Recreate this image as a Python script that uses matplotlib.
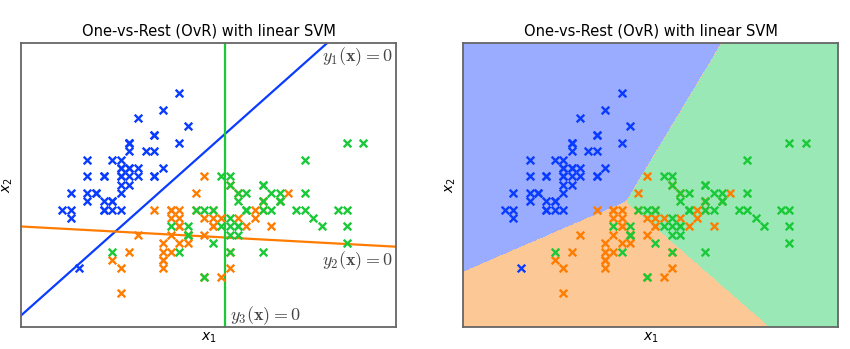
import numpy as np
import matplotlib
matplotlib.use('Agg')
import matplotlib.pyplot as plt
from matplotlib.colors import to_rgb

# iris: sepal length (x1) / sepal width (x2)
setosa_x1 = [5.1, 4.9, 4.7, 4.6, 5.0, 5.4, 4.6, 5.0, 4.4, 4.9, 5.4, 4.8, 4.8, 4.3, 5.8, 5.7, 5.4, 5.1, 5.7, 5.1,
             5.4, 5.1, 4.6, 5.1, 4.8, 5.0, 5.0, 5.2, 5.2, 4.7, 4.8, 5.4, 5.2, 5.5, 4.9, 5.0, 5.5, 4.9, 4.4, 5.1,
             5.0, 4.5, 4.4, 5.0, 5.1, 4.8, 5.1, 4.6, 5.3, 5.0]
setosa_x2 = [3.5, 3.0, 3.2, 3.1, 3.6, 3.9, 3.4, 3.4, 2.9, 3.1, 3.7, 3.4, 3.0, 3.0, 4.0, 4.4, 3.9, 3.5, 3.8, 3.8,
             3.4, 3.7, 3.6, 3.3, 3.4, 3.0, 3.4, 3.5, 3.4, 3.2, 3.1, 3.4, 4.1, 4.2, 3.1, 3.2, 3.5, 3.6, 3.0, 3.4,
             3.5, 2.3, 3.2, 3.5, 3.8, 3.0, 3.8, 3.2, 3.7, 3.3]
versicolor_x1 = [7.0, 6.4, 6.9, 5.5, 6.5, 5.7, 6.3, 4.9, 6.6, 5.2, 5.0, 5.9, 6.0, 6.1, 5.6, 6.7, 5.6, 5.8, 6.2, 5.6,
                 5.9, 6.1, 6.3, 6.1, 6.4, 6.6, 6.8, 6.7, 6.0, 5.7, 5.5, 5.5, 5.8, 6.0, 5.4, 6.0, 6.7, 6.3, 5.6, 5.5,
                 5.5, 6.1, 5.8, 5.0, 5.6, 5.7, 5.7, 6.2, 5.1, 5.7]
versicolor_x2 = [3.2, 3.2, 3.1, 2.3, 2.8, 2.8, 3.3, 2.4, 2.9, 2.7, 2.0, 3.0, 2.2, 2.9, 2.9, 3.1, 3.0, 2.7, 2.2, 2.5,
                 3.2, 2.8, 2.5, 2.8, 2.9, 3.0, 2.8, 3.0, 2.9, 2.6, 2.4, 2.4, 2.7, 2.7, 3.0, 3.4, 3.1, 2.3, 3.0, 2.5,
                 2.6, 3.0, 2.6, 2.3, 2.7, 3.0, 2.9, 2.9, 2.5, 2.8]
virginica_x1 = [6.3, 5.8, 7.1, 6.3, 6.5, 7.6, 4.9, 7.3, 6.7, 7.2, 6.5, 6.4, 6.8, 5.7, 5.8, 6.4, 6.5, 7.7, 7.7, 6.0,
                6.9, 5.6, 7.7, 6.3, 6.7, 7.2, 6.2, 6.1, 6.4, 7.2, 7.4, 7.9, 6.4, 6.3, 6.1, 7.7, 6.3, 6.4, 6.0, 6.9,
                6.7, 6.9, 5.8, 6.8, 6.7, 6.7, 6.3, 6.5, 6.2, 5.9]
virginica_x2 = [3.3, 2.7, 3.0, 2.9, 3.0, 3.0, 2.5, 2.9, 2.5, 3.6, 3.2, 2.7, 3.0, 2.5, 2.8, 3.2, 3.0, 3.8, 2.6, 2.2,
                3.2, 2.8, 2.8, 2.7, 3.3, 3.2, 2.8, 3.0, 2.8, 3.0, 2.8, 3.8, 2.8, 2.8, 2.6, 3.0, 3.4, 3.1, 3.0, 3.1,
                3.1, 3.1, 2.7, 3.2, 3.3, 3.0, 2.5, 3.0, 3.4, 3.0]

# one-vs-rest decision functions y_k(x) = w_k . x + b_k
W = np.array([[-0.891, 1.0],
              [-0.0509, -0.943],
              [0.773, 0.0]])
b = np.array([1.657, 2.834, -4.831])

labels = [r'$y_1(\mathbf{x}) = 0$', r'$y_2(\mathbf{x}) = 0$', r'$y_3(\mathbf{x}) = 0$']
colors = ['#0a3cff', '#ff7c00', '#1ac938']
fills = ['#9aacff', '#fcc896', '#99e8b5']
xlim = (3.806, 8.29)
ylim = (1.60, 5.00)

classes = [(setosa_x1, setosa_x2), (versicolor_x1, versicolor_x2), (virginica_x1, virginica_x2)]


def scatterClasses(ax):
    for (x1, x2), c in zip(classes, colors):
        ax.scatter(x1, x2, marker='x', s=30, c=c, linewidths=1.7, zorder=3)


def setupAxes(ax):
    ax.set_xlim(xlim)
    ax.set_ylim(ylim)
    ax.set_xticks([])
    ax.set_yticks([])
    ax.set_xlabel('$x_1$', fontsize=10, labelpad=3)
    ax.set_ylabel('$x_2$', fontsize=10, labelpad=4)
    ax.set_title('One-vs-Rest (OvR) with linear SVM', fontsize=10.5, pad=5)
    for s in ax.spines.values():
        s.set_color('#666666')
        s.set_linewidth(1.3)


fig = plt.figure(figsize=(8.5, 3.49), dpi=100)
ax1 = fig.add_axes([21 / 850, 22.3 / 349, 375 / 850, 284 / 349])
ax2 = fig.add_axes([463.3 / 850, 22.3 / 349, 375 / 850, 284 / 349])

# left: the three decision lines
xs = np.linspace(xlim[0] - 1, xlim[1] + 1, 10)
for k in range(3):
    if abs(W[k, 1]) > 1e-9:
        ax1.plot(xs, -(W[k, 0] * xs + b[k]) / W[k, 1], color=colors[k], lw=1.6, zorder=2)
    else:
        ax1.axvline(-b[k] / W[k, 0], color=colors[k], lw=1.6, zorder=2)
scatterClasses(ax1)
setupAxes(ax1)
txt = dict(color='#444444', fontsize=13, math_fontfamily='cm')
ax1.text(8.25, 4.83, labels[0], ha='right', va='center', **txt)
ax1.text(8.25, 2.39, labels[1], ha='right', va='center', **txt)
ax1.text(6.31, 1.73, labels[2], ha='left', va='center', **txt)

# right: argmax regions
gx, gy = np.meshgrid(np.linspace(xlim[0], xlim[1], 600), np.linspace(ylim[0], ylim[1], 500))
scores = np.stack([W[k, 0] * gx + W[k, 1] * gy + b[k] for k in range(3)])
region = np.argmax(scores, axis=0)
ax2.contourf(gx, gy, region, levels=[-0.5, 0.5, 1.5, 2.5], colors=fills, zorder=1)
scatterClasses(ax2)
setupAxes(ax2)

plt.savefig('out.png', dpi=100)
